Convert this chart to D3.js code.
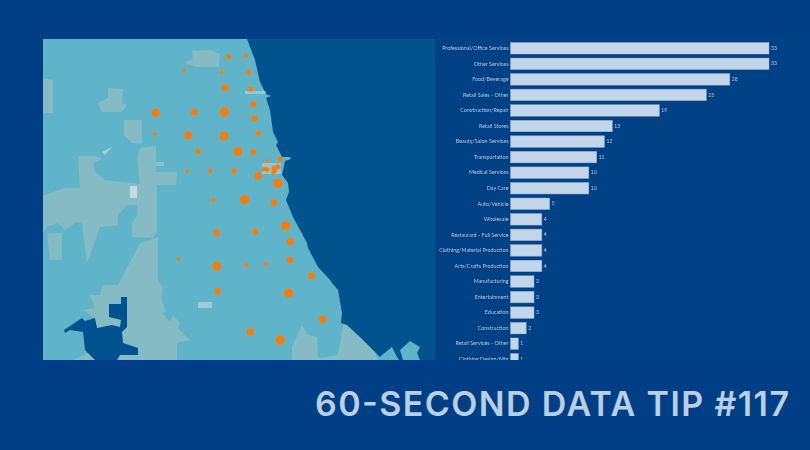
<!DOCTYPE html>
<html><head><meta charset="utf-8">
<script src="https://cdnjs.cloudflare.com/ajax/libs/d3/7.8.5/d3.min.js"></script>
<style>html,body{margin:0;padding:0;background:#003f85;overflow:hidden}svg{display:block}</style>
</head><body><svg id="c" width="810" height="450"></svg>
<script>
const categories=["Professional/Office Services","Other Services","Food/Beverage","Retail Sales - Other","Construction/Repair","Retail Stores","Beauty/Salon Services","Transportation","Medical Services","Day Care","Auto/Vehicle","Wholesale","Restaurant - Full Service","Clothing/Material Production","Arts/Crafts Production","Manufacturing","Entertainment","Education","Construction","Retail Services - Other","Clothing Design/Mfg"];
const counts=[33,33,28,25,19,13,12,11,10,10,5,4,4,4,4,3,3,3,2,1,1];
const titleText="60-SECOND DATA TIP #117";
// map features, in map-plane units
const lakeShore=[[247,39],[255,60],[260,82],[266,94],[271,96],[266,98],[270,110],[273,132],[278,142],[276,145],[282,157],[290,157],[291,159],[285,161],[282,175],[288,183],[289,192],[286,200],[293,217],[307,243],[308,248],[318,267],[330,280],[332,283],[338,290],[342,313],[341,323],[347,325],[360,337],[375,352],[380,357],[382,355],[392,347],[397,357],[399,360],[403,360],[400,350],[410,341],[420,347],[417,353],[420,360],[435,360],[435,39]];
const suburbs=[
 [[192,51],[210,50],[220,54],[219,67],[197,67],[184,63],[193,59]],
 [[43,78],[53,80],[53,113],[43,113]],
 [[108,88],[123,89],[122,103],[127,105],[122,112],[102,112],[98,103],[108,98]],
 [[124,120],[142,120],[142,144],[132,143],[124,135]],
 [[78,156],[95,156],[102,159],[93,163],[95,172],[105,180],[140,184],[137,158],[140,148],[156,146],[156,172],[177,172],[176,185],[157,185],[157,232],[153,238],[132,237],[132,223],[137,215],[137,205],[127,205],[118,215],[118,225],[100,227],[87,263],[82,223],[77,222],[65,230],[57,223],[47,227],[43,233],[43,196],[50,193],[65,188],[80,188]],
 [[47,233],[62,233],[62,260],[50,260]],
 [[158,237],[158,280],[163,288],[161,297],[166,312],[162,313],[170,322],[173,315],[180,323],[178,328],[190,340],[177,343],[177,360],[73,360],[80,357],[90,352],[93,317],[83,310],[95,308],[90,295],[100,295],[103,285],[118,285],[140,243]],
 [[292,358],[292,347],[302,325],[308,335],[317,337],[318,357],[322,358],[337,355],[340,345],[343,325],[347,325],[360,337],[375,352],[378,360],[292,360]]
];
const darkDistrict=[[121,297],[127,297],[127,327],[122,332],[123,343],[138,348],[138,355],[120,355],[117,360],[95,360],[85,350],[83,332],[70,330],[65,333],[64,330],[82,318],[85,321],[95,318],[97,328],[112,325],[120,327],[121,320],[109,317],[109,304],[121,304]];
const patches=[
 [[130,186],[137,186],[137,198],[130,198]],
 [[102,152],[112,147],[105,155]],
 [[156,162],[164,162],[164,166],[156,166]],
 [[198,302],[212,302],[212,308],[198,308]],
 [[245,91],[266,91],[266,94],[245,94]],
 [[262,163],[281,163],[281,174],[262,174]]
];
const patchOpacity=[0.85,0.6,0.35,0.55,0.45,0.45];
const dotX=[228.7,184.7,221.7,225.3,155.7,194.3,224.3,154.3,188.3,224,198,238,187,210.3,234,213.7,246,248.7,250.7,253.7,254.7,258.3,253.7,267,280,264,267,274,278,273.5,275,257.7,278,244.7,274,285.7,255.3,290.3,290,246.3,266,311.7,288.7,322.7,250.3,280.3,216.7,178.3,216.7,217.7];
const dotY=[56.7,70,72.3,88,112.7,112.3,112,134,135.3,136,151.7,151.5,171,171,171,200,55.7,72.3,89,104.3,118.3,133.3,152.3,161,159,169.3,169.5,168.3,166.7,172,170.5,176,183.3,199.5,202.7,225.7,231.7,241.3,260,265,264,275.7,293,319.3,332,340,232.7,259.3,266,291.3];
const dotR=[2.2,1.5,1.5,3,3.8,3,4.4,1.5,3.6,4,2.4,4,1.5,2,2.4,1.8,1.8,2.4,2.3,2.8,2.8,2.5,2.5,1.4,2.3,2,2,2.3,2,2,1.8,3.4,4.3,4.3,3,4.3,2.7,3.4,3,1.8,1.8,3.2,4.3,3.4,3.4,4.4,3.1,1.5,4,2.8];

const svg=d3.select("#c");
const defs=svg.append("defs");
defs.append("filter").attr("id","soft").attr("x","-2%").attr("y","-2%").attr("width","104%").attr("height","104%")
 .append("feGaussianBlur").attr("stdDeviation",0.4);
const x0=43,x1=435,y0=39,y1=360;
const mx=d3.scaleLinear().domain([43,435]).range([x0,x1]);
const my=d3.scaleLinear().domain([39,360]).range([y0,y1]);
const line=d3.line().x(d=>mx(d[0])).y(d=>my(d[1])).curve(d3.curveLinearClosed);

defs.append("clipPath").attr("id","mc").append("rect").attr("x",x0).attr("y",y0).attr("width",x1-x0).attr("height",y1-y0);
const map=svg.append("g").attr("clip-path","url(#mc)").append("g").attr("filter","url(#soft)");
map.append("rect").attr("x",x0-3).attr("y",y0-3).attr("width",x1-x0+6).attr("height",y1-y0+6).attr("fill","#60b4c9");
map.selectAll("path.s").data(suburbs).join("path").attr("class","s").attr("d",line).attr("fill","#85bbc4");
map.append("path").attr("d",line(darkDistrict)).attr("fill","#03518f");
map.append("path").attr("d",line(lakeShore)).attr("fill","#02538d");
map.selectAll("path.p").data(patches).join("path").attr("class","p").attr("d",line).attr("fill","#d4dfe6").attr("opacity",(d,i)=>patchOpacity[i]);
const dots=map.append("g");
dots.selectAll("circle.h").data(dotX).join("circle").attr("class","h").attr("cx",d=>mx(d)).attr("cy",(d,i)=>my(dotY[i])).attr("r",(d,i)=>dotR[i]+1).attr("fill","#f08a24").attr("opacity",0.45);
dots.selectAll("circle.m").data(dotX).join("circle").attr("class","m").attr("cx",d=>mx(d)).attr("cy",(d,i)=>my(dotY[i])).attr("r",(d,i)=>dotR[i]).attr("fill","#f57c08");

// bars
const xb=d3.scaleLinear().domain([0,33]).range([510.5,769]);
const yb=d3.scaleBand().domain(categories).range([40.5,40.5+15.55*categories.length]).paddingInner(0.26).paddingOuter(0.13);
defs.append("clipPath").attr("id","bc").append("rect").attr("x",436).attr("y",36).attr("width",374).attr("height",324);
const chart=svg.append("g").attr("clip-path","url(#bc)").append("g").attr("filter","url(#soft)");
chart.append("rect").attr("x",436).attr("y",36).attr("width",374).attr("height",330).attr("fill","#003f85");
chart.selectAll("rect.b").data(categories).join("rect").attr("class","b")
 .attr("x",xb(0)).attr("y",d=>yb(d)).attr("width",(d,i)=>xb(counts[i])-xb(0)).attr("height",yb.bandwidth())
 .attr("fill","#c3d6e9").attr("stroke","#8fb0d2").attr("stroke-width",0.5);
const axis=d3.axisLeft(yb).tickSize(0).tickPadding(2);
const ag=chart.append("g").attr("transform",`translate(${xb(0)},0)`).call(axis);
ag.select(".domain").remove();
ag.selectAll("text").attr("fill","#b4cce3").attr("font-family","Lato, sans-serif").attr("font-size",5.4);
chart.selectAll("text.v").data(categories).join("text").attr("class","v")
 .attr("x",(d,i)=>xb(counts[i])+2).attr("y",d=>yb(d)+yb.bandwidth()/2).attr("dy","0.32em")
 .attr("fill","#b4cce3").attr("font-family","Lato, sans-serif").attr("font-size",5)
 .text((d,i)=>counts[i]);

svg.append("text").attr("x",789).attr("y",416).attr("text-anchor","end")
 .attr("fill","#b8cfe5").attr("font-family","Inter, sans-serif").attr("font-weight",600).attr("font-size",34)
 .attr("textLength",474).attr("lengthAdjust","spacing").text(titleText);
</script></body></html>
